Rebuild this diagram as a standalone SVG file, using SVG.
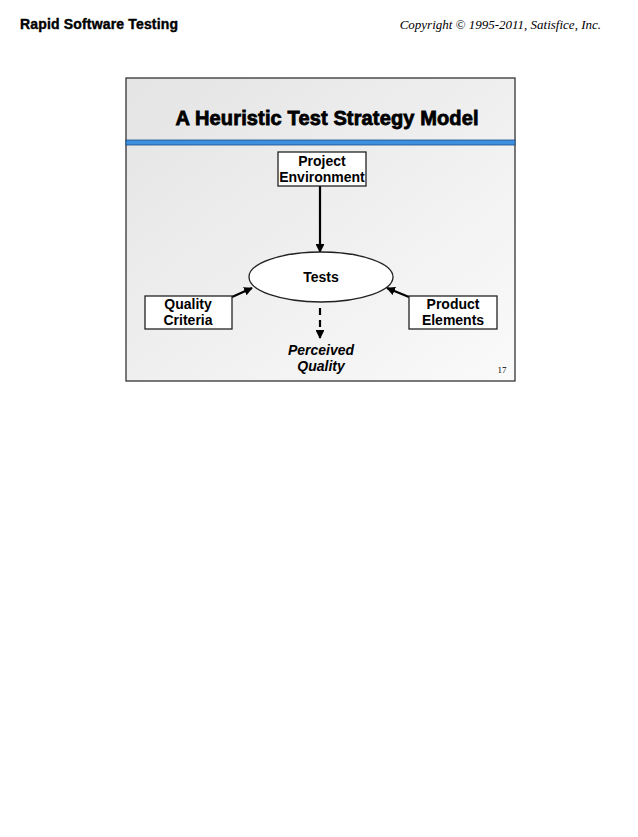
<svg xmlns="http://www.w3.org/2000/svg" width="638" height="837" viewBox="0 0 638 837">
<style>
.b{fill:#fff;stroke:#222;stroke-width:1.3}
.t{font-family:"Liberation Sans",Arial,sans-serif;font-weight:bold;font-size:14px;text-anchor:middle;fill:#000}
.c{stroke:#000;stroke-width:2.2;fill:none}
</style>
<defs>
<linearGradient id="g" x1="0" y1="0" x2="1" y2="1"><stop offset="0" stop-color="#e4e4e4"/><stop offset="1" stop-color="#fafafa"/></linearGradient>
<marker id="a" viewBox="0 0 10 10" refX="9" refY="5" markerWidth="4" markerHeight="4" orient="auto"><path d="M0,0L10,5L0,10z" fill="#000"/></marker>
</defs>
<rect width="638" height="837" fill="#fff"/>
<text x="20" y="29" font-family="Liberation Sans,Arial,sans-serif" font-weight="bold" font-size="14" stroke="#000" stroke-width="0.4" textLength="158">Rapid Software Testing</text>
<text x="601" y="29" text-anchor="end" font-family="Liberation Serif,serif" font-style="italic" font-size="13">Copyright © 1995-2011, Satisfice, Inc.</text>
<rect x="126" y="78" width="389" height="303" fill="url(#g)" stroke="#333" stroke-width="1.3"/>
<text x="327" y="125" class="t" style="font-size:20px" stroke="#000" stroke-width="0.8" textLength="303">A Heuristic Test Strategy Model</text>
<rect x="126" y="140" width="389" height="5" fill="#3f8fdf" stroke="#1b4f8a" stroke-width="0.8"/>
<g id="connectors">
<line class="c" x1="320" y1="186" x2="320" y2="252" marker-end="url(#a)"/>
<line class="c" x1="232" y1="297" x2="252" y2="288" marker-end="url(#a)"/>
<line class="c" x1="409" y1="297" x2="387" y2="288" marker-end="url(#a)"/>
<line class="c" x1="320" y1="308" x2="320" y2="338" stroke-dasharray="7,5" marker-end="url(#a)"/>
</g>
<g id="project"><rect class="b" x="278" y="152" width="88" height="34"/><text class="t" x="322" y="166">Project</text><text class="t" x="322" y="182">Environment</text></g>
<g id="tests"><ellipse class="b" cx="321" cy="277" rx="72" ry="25"/><text class="t" x="321" y="282">Tests</text></g>
<g id="quality"><rect class="b" x="145" y="296" width="87" height="33"/><text class="t" x="188" y="309">Quality</text><text class="t" x="188" y="325">Criteria</text></g>
<g id="product"><rect class="b" x="409" y="296" width="88" height="33"/><text class="t" x="453" y="309">Product</text><text class="t" x="453" y="325">Elements</text></g>
<g id="perceived"><text class="t" x="321" y="355" font-style="italic">Perceived</text><text class="t" x="321" y="371" font-style="italic">Quality</text></g>
<text x="502" y="373" text-anchor="middle" font-family="Liberation Serif,serif" font-size="9">17</text>
</svg>
